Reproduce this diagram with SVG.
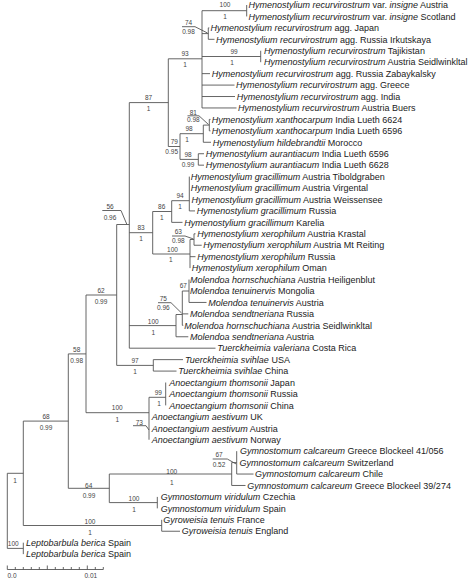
<svg xmlns="http://www.w3.org/2000/svg" width="474" height="579" viewBox="0 0 474 579">
<style>
.c{fill:none;stroke:#555;stroke-width:0.9}
.t{font-family:"Liberation Sans",Arial,sans-serif;font-size:9px;fill:#222}
.t .i{font-style:italic}
.s{font-family:"Liberation Sans",Arial,sans-serif;font-size:6.5px;fill:#444;text-anchor:middle}
.sb{font-family:"Liberation Sans",Arial,sans-serif;font-size:6.5px;fill:#444}
</style>
<rect width="474" height="579" fill="#fff"/>
<g id="connectors" class="c">
<!-- recurvirostrum clade -->
<path d="M246.7,5V16.44M202,10.7H246.7"/>
<path d="M208.3,27.88V39.32M208.3,27.88H209.3M208.3,39.32H214.5M202,33.6H208.3"/>
<path d="M260.7,50.76V62.2M202,56.5H260.7"/>
<path d="M202,10.7V107.96M202,73.64H210M202,85.08H234.5M202,96.52H235M202,107.96H236.5"/>
<path d="M168.3,58.8H202"/>
<!-- xanthocarpum / aurantiacum -->
<path d="M209.3,119.4V130.84M209.3,119.4H210.5M209.3,130.84H210.5M203.3,125.1H209.3"/>
<path d="M203.3,125.1V142.28M203.3,142.28H211M180,133.7H203.3"/>
<path d="M198.3,153.72V165.16M198.3,153.72H204M198.3,165.16H204M180,159.4H198.3"/>
<path d="M180,133.7V159.4M168.3,146.5H180"/>
<path d="M168.3,58.8V146.5M129.3,102.6H168.3"/>
<!-- gracillimum -->
<path d="M189.3,176.6V210.92M189.3,210.92H195M171.7,200.7H189.3"/>
<path d="M171.7,200.7V222.36M171.7,222.36H182.5M152.7,211.5H171.7"/>
<!-- xerophilum -->
<path d="M194,233.8V245.24M194,233.8H195.5M194,245.24H201.7M190,239.5H194"/>
<path d="M190,239.5V268.12M190,256.68H195.5M152.7,254H190"/>
<path d="M152.7,211.5V254M129.3,232.7H152.7"/>
<!-- Molendoa -->
<path d="M189,279.56V302.44M189,302.44H206.5M182.3,291H189"/>
<path d="M182.3,291V325.32M182.3,313.88H188.3M182.3,325.32H183.3M176,314.5H182.3"/>
<path d="M176,314.5V336.76M176,336.76H188.3M129.3,325.6H176"/>
<path d="M129.3,348.2H215.5"/>
<path d="M129.3,102.6V348.2M116.7,224.5H129.3"/>
<!-- Tuerckheimia svihlae -->
<path d="M153.3,359.64V371.08M153.3,359.64H183M153.3,371.08H176.5M116.7,365.4H153.3"/>
<path d="M116.7,224.5V365.4M86,295H116.7"/>
<!-- Anoectangium -->
<path d="M165.7,382.52V405.4M149,397.3H165.7"/>
<path d="M149,397.3V439.72M86,412.7H149"/>
<path d="M86,295V412.7M68.3,353.9H86"/>
<!-- Gymnostomum -->
<path d="M236.7,451.16V474.04M236.7,474.04H253.5M231.7,462.6H236.7"/>
<path d="M231.7,462.6V485.48M231.7,485.48H245.5M109.3,474H231.7"/>
<path d="M157.3,496.92V508.36M109.3,502.6H157.3"/>
<path d="M109.3,474V502.6M68.3,488.3H109.3"/>
<path d="M68.3,353.9V488.3M23.3,421.1H68.3"/>
<!-- Gyroweisia -->
<path d="M161.7,519.8V531.24M161.7,531.24H180M23.3,525.5H161.7"/>
<path d="M23.3,421.1V525.5M7.3,473.3H23.3"/>
<!-- Leptobarbula / root -->
<path d="M23.3,542.68V554.12M7.3,548.4H23.3"/>
<path d="M7.3,473.3V548.4"/>
<!-- label pointers -->
<path d="M182,26.7H195L207.5,33"/>
<path d="M187.5,115.8H199L208.5,124.5"/>
<path d="M102.3,210.5H121L126.7,224"/>
<path d="M172,236H185L193.5,239"/>
<path d="M158,302.7H171L181.5,313"/>
<path d="M133,425.7H146L149,430"/>
<path d="M212.7,459H227.3L236.2,464"/>
</g>
<g id="support">
<text class="s" x="225" y="6.5">100</text><text class="s" x="225" y="18.5">1</text>
<text class="s" x="188.5" y="24.8">74</text><text class="s" x="188.5" y="34.3">0.98</text>
<text class="s" x="185" y="55.5">93</text><text class="s" x="185" y="67">1</text>
<text class="s" x="234" y="53.5">99</text><text class="s" x="232" y="64.5">1</text>
<text class="s" x="148.5" y="99.5">87</text><text class="s" x="148.5" y="110.5">1</text>
<text class="s" x="193.3" y="114.5">81</text><text class="s" x="193.3" y="122">0.98</text>
<text class="s" x="189" y="130.5">98</text><text class="s" x="187" y="141.5">1</text>
<text class="s" x="174.3" y="143.5">79</text><text class="s" x="171.7" y="153.5">0.95</text>
<text class="s" x="188" y="156.5">98</text><text class="s" x="188" y="166.5">0.99</text>
<text class="s" x="180" y="197.5">94</text><text class="s" x="180" y="208.5">1</text>
<text class="s" x="161.7" y="208.5">86</text><text class="s" x="161.7" y="219.5">1</text>
<text class="s" x="178.3" y="234.3">63</text><text class="s" x="178.3" y="242.5">0.98</text>
<text class="s" x="172.5" y="251.5">100</text><text class="s" x="170.7" y="261.8">1</text>
<text class="s" x="141" y="229.8">83</text><text class="s" x="141" y="240.8">1</text>
<text class="s" x="110" y="209">56</text><text class="s" x="110" y="219.8">0.96</text>
<text class="s" x="101" y="293.2">62</text><text class="s" x="101" y="304.2">0.99</text>
<text class="s" x="183.3" y="287.5">67</text>
<text class="s" x="163.3" y="300.8">75</text><text class="s" x="163.3" y="309.8">0.96</text>
<text class="s" x="153.3" y="324.2">100</text><text class="s" x="153.3" y="334.5">1</text>
<text class="s" x="135" y="362.5">97</text><text class="s" x="135" y="374.2">1</text>
<text class="s" x="76.7" y="351.8">58</text><text class="s" x="76.7" y="362.5">0.98</text>
<text class="s" x="158.3" y="394.8">99</text><text class="s" x="159" y="405.8">1</text>
<text class="s" x="117.3" y="410.2">100</text><text class="s" x="117.3" y="421.5">1</text>
<text class="s" x="139.3" y="425.2">73</text>
<text class="s" x="46" y="419.2">68</text><text class="s" x="46" y="430.2">0.99</text>
<text class="s" x="15" y="482.5">1</text>
<text class="s" x="88.7" y="487.5">64</text><text class="s" x="89" y="498.2">0.99</text>
<text class="s" x="171.7" y="474.2">100</text><text class="s" x="171.7" y="485.2">1</text>
<text class="s" x="219" y="456.5">67</text><text class="s" x="219" y="466.5">0.52</text>
<text class="s" x="134" y="500.5">100</text><text class="s" x="134" y="511.5">1</text>
<text class="s" x="90" y="524.2">100</text><text class="s" x="90" y="535.2">1</text>
<text class="s" x="13.3" y="545.8">100</text>
</g>
<g id="leaves" class="t">
<g id="n1"><text x="248.5" y="8.2"><tspan class="i">Hymenostylium recurvirostrum</tspan> var. <tspan class="i">insigne</tspan> Austria</text></g>
<g id="n2"><text x="248.5" y="19.6"><tspan class="i">Hymenostylium recurvirostrum</tspan> var. <tspan class="i">insigne</tspan> Scotland</text></g>
<g id="n3"><text x="210.5" y="31.1"><tspan class="i">Hymenostylium recurvirostrum</tspan> agg. Japan</text></g>
<g id="n4"><text x="216" y="42.5"><tspan class="i">Hymenostylium recurvirostrum</tspan> agg. Russia Irkutskaya</text></g>
<g id="n5"><text x="264" y="54"><tspan class="i">Hymenostylium recurvirostrum</tspan> Tajikistan</text></g>
<g id="n6"><text x="264" y="65.4"><tspan class="i">Hymenostylium recurvirostrum</tspan> Austria Seidlwinkltal</text></g>
<g id="n7"><text x="211.7" y="76.8"><tspan class="i">Hymenostylium recurvirostrum</tspan> agg. Russia Zabaykalsky</text></g>
<g id="n8"><text x="236" y="88.3"><tspan class="i">Hymenostylium recurvirostrum</tspan> agg. Greece</text></g>
<g id="n9"><text x="236.7" y="99.7"><tspan class="i">Hymenostylium recurvirostrum</tspan> agg. India</text></g>
<g id="n10"><text x="238" y="111.2"><tspan class="i">Hymenostylium recurvirostrum</tspan> Austria Buers</text></g>
<g id="n11"><text x="211.7" y="122.6"><tspan class="i">Hymenostylium xanthocarpum</tspan> India Lueth 6624</text></g>
<g id="n12"><text x="211.7" y="134"><tspan class="i">Hymenostylium xanthocarpum</tspan> India Lueth 6596</text></g>
<g id="n13"><text x="212.7" y="145.5"><tspan class="i">Hymenostylium hildebrandtii</tspan> Morocco</text></g>
<g id="n14"><text x="205.7" y="156.9"><tspan class="i">Hymenostylium aurantiacum</tspan> India Lueth 6596</text></g>
<g id="n15"><text x="205.7" y="168.4"><tspan class="i">Hymenostylium aurantiacum</tspan> India Lueth 6628</text></g>
<g id="n16"><text x="190.7" y="179.8"><tspan class="i">Hymenostylium gracillimum</tspan> Austria Tiboldgraben</text></g>
<g id="n17"><text x="190.7" y="191.2"><tspan class="i">Hymenostylium gracillimum</tspan> Austria Virgental</text></g>
<g id="n18"><text x="191.5" y="202.7"><tspan class="i">Hymenostylium gracillimum</tspan> Austria Weissensee</text></g>
<g id="n19"><text x="196.7" y="214.1"><tspan class="i">Hymenostylium gracillimum</tspan> Russia</text></g>
<g id="n20"><text x="184.3" y="225.6"><tspan class="i">Hymenostylium gracillimum</tspan> Karelia</text></g>
<g id="n21"><text x="197.3" y="237"><tspan class="i">Hymenostylium xerophilum</tspan> Austria Krastal</text></g>
<g id="n22"><text x="203.3" y="248.4"><tspan class="i">Hymenostylium xerophilum</tspan> Austria Mt Reiting</text></g>
<g id="n23"><text x="197.3" y="259.9"><tspan class="i">Hymenostylium xerophilum</tspan> Russia</text></g>
<g id="n24"><text x="191.7" y="271.3"><tspan class="i">Hymenostylium xerophilum</tspan> Oman</text></g>
<g id="n25"><text x="190" y="282.8"><tspan class="i">Molendoa hornschuchiana</tspan> Austria Heiligenblut</text></g>
<g id="n26"><text x="190" y="294.2"><tspan class="i">Molendoa tenuinervis</tspan> Mongolia</text></g>
<g id="n27"><text x="208.3" y="305.6"><tspan class="i">Molendoa tenuinervis</tspan> Austria</text></g>
<g id="n28"><text x="190" y="317.1"><tspan class="i">Molendoa sendtneriana</tspan> Russia</text></g>
<g id="n29"><text x="184.3" y="328.5"><tspan class="i">Molendoa hornschuchiana</tspan> Austria Seidlwinkltal</text></g>
<g id="n30"><text x="190" y="340"><tspan class="i">Molendoa sendtneriana</tspan> Austria</text></g>
<g id="n31"><text x="217.3" y="351.4"><tspan class="i">Tuerckheimia valeriana</tspan> Costa Rica</text></g>
<g id="n32"><text x="185" y="362.8"><tspan class="i">Tuerckheimia svihlae</tspan> USA</text></g>
<g id="n33"><text x="178.3" y="374.3"><tspan class="i">Tuerckheimia svihlae</tspan> China</text></g>
<g id="n34"><text x="169.3" y="385.7"><tspan class="i">Anoectangium thomsonii</tspan> Japan</text></g>
<g id="n35"><text x="169.3" y="397.2"><tspan class="i">Anoectangium thomsonii</tspan> Russia</text></g>
<g id="n36"><text x="169.3" y="408.6"><tspan class="i">Anoectangium thomsonii</tspan> China</text></g>
<g id="n37"><text x="151.7" y="420"><tspan class="i">Anoectangium aestivum</tspan> UK</text></g>
<g id="n38"><text x="151.7" y="431.5"><tspan class="i">Anoectangium aestivum</tspan> Austria</text></g>
<g id="n39"><text x="151.7" y="442.9"><tspan class="i">Anoectangium aestivum</tspan> Norway</text></g>
<g id="n40"><text x="240" y="454.4"><tspan class="i">Gymnostomum calcareum</tspan> Greece Blockeel 41/056</text></g>
<g id="n41"><text x="239.5" y="465.8"><tspan class="i">Gymnostomum calcareum</tspan> Switzerland</text></g>
<g id="n42"><text x="255" y="477.2"><tspan class="i">Gymnostomum calcareum</tspan> Chile</text></g>
<g id="n43"><text x="247.3" y="488.7"><tspan class="i">Gymnostomum calcareum</tspan> Greece Blockeel 39/274</text></g>
<g id="n44"><text x="160.7" y="500.1"><tspan class="i">Gymnostomum viridulum</tspan> Czechia</text></g>
<g id="n45"><text x="160.7" y="511.6"><tspan class="i">Gymnostomum viridulum</tspan> Spain</text></g>
<g id="n46"><text x="163.3" y="523"><tspan class="i">Gyroweisia tenuis</tspan> France</text></g>
<g id="n47"><text x="181.7" y="534.4"><tspan class="i">Gyroweisia tenuis</tspan> England</text></g>
<g id="n48"><text x="26" y="545.9"><tspan class="i">Leptobarbula berica</tspan> Spain</text></g>
<g id="n49"><text x="26" y="557.3"><tspan class="i">Leptobarbula berica</tspan> Spain</text></g>
</g>
<g id="scalebar">
<path class="c" d="M7.3,569.5H103.3M7.3,569.5V565.5M15.3,569.5V567M23.3,569.5V567M31.3,569.5V567M39.3,569.5V567M47.3,569.5V565.5M55.3,569.5V567M63.3,569.5V567M71.3,569.5V567M79.3,569.5V567M87.3,569.5V565.5M95.3,569.5V567M103.3,569.5V567"/>
<text class="sb" x="7.5" y="577.5">0.0</text>
<text class="sb" x="84.5" y="577.5">0.01</text>
</g>
</svg>
